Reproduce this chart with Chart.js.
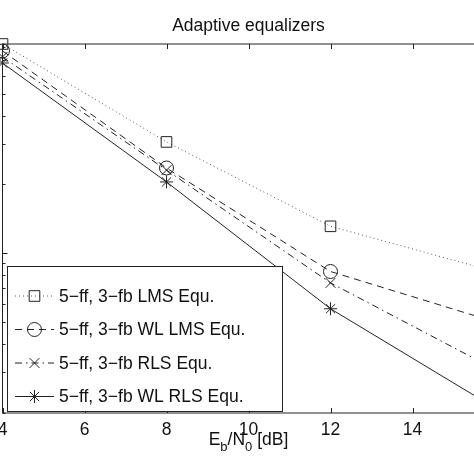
<!DOCTYPE html>
<html>
<head>
<meta charset="utf-8">
<title>Adaptive equalizers</title>
<script src="https://cdn.jsdelivr.net/npm/chart.js@4.4.1/dist/chart.umd.min.js"></script>
<style>
  html, body { margin: 0; padding: 0; background: #fff; }
  .container { position: relative; width: 474px; height: 474px; }
</style>
</head>
<body>
<div class="container"><canvas id="chart"></canvas></div>
<script>
// Eb/N0 [dB] of the simulated points
const snr = [4, 8, 12, 16];

// bit error rate of each equalizer
const lmsBer = [0.0825, 0.0307, 0.0131, 0.0083];
const wlLmsBer = [0.0769, 0.0236, 0.0083, 0.0050];
const rlsBer = [0.0724, 0.0231, 0.0074, 0.0031];
const wlRlsBer = [0.0681, 0.0205, 0.0057, 0.0021];

const seriesNames = [
    '5\u2212ff, 3\u2212fb LMS Equ.',
    '5\u2212ff, 3\u2212fb WL LMS Equ.',
    '5\u2212ff, 3\u2212fb RLS Equ.',
    '5\u2212ff, 3\u2212fb WL RLS Equ.'
];

const xTicks = [4, 6, 8, 10, 12, 14];
const xTickLabels = ['4', '6', '8', '10', '12', '14'];
const xRange = [4, 15.5];
const yRange = [0.00199, 0.0825];

const FONT = "'Liberation Sans', Arial, Helvetica, sans-serif";
const INK = '#222';

function toPoints(values) {
    return values.map((v, i) => ({ x: snr[i], y: v }));
}

function series(label, values, color, dash, style, radius) {
    return {
        label: label,
        data: toPoints(values),
        borderColor: color,
        borderWidth: 1,
        borderDash: dash,
        pointStyle: style,
        pointRadius: radius,
        pointHoverRadius: radius,
        pointBorderColor: INK,
        pointBorderWidth: 1,
        pointBackgroundColor: 'rgba(0,0,0,0)',
        tension: 0,
        fill: false,
        clip: false
    };
}

const datasets = [
    series(seriesNames[0], lmsBer, '#555', [1, 3], 'rect', 7.5),
    series(seriesNames[1], wlLmsBer, INK, [7, 5], 'circle', 7),
    series(seriesNames[2], rlsBer, INK, [7, 4, 1.5, 4], 'crossRot', 7),
    series(seriesNames[3], wlRlsBer, INK, [], 'star', 6.5)
];

function drawMarker(ctx, ds, x, y) {
    ctx.save();
    ctx.setLineDash([]);
    ctx.strokeStyle = ds.pointBorderColor;
    ctx.fillStyle = 'rgba(0,0,0,0)';
    ctx.lineWidth = 1;
    Chart.helpers.drawPoint(ctx, { pointStyle: ds.pointStyle, radius: ds.pointRadius, rotation: 0, borderWidth: 1 }, x, y);
    ctx.restore();
}

// MATLAB style box, inward ticks, labels and the legend inside the axes
const matlabAxes = {
    id: 'matlabAxes',
    afterDatasetsDraw(chart) {
        const { ctx, chartArea: a, scales: { x, y } } = chart;
        ctx.save();
        ctx.strokeStyle = INK;
        ctx.lineWidth = 1;
        ctx.setLineDash([]);

        // frame
        ctx.beginPath();
        ctx.moveTo(a.left, a.bottom);
        ctx.lineTo(a.left, a.top);
        ctx.lineTo(a.right + 5, a.top);
        ctx.moveTo(a.left, a.bottom);
        ctx.lineTo(a.right + 5, a.bottom);
        ctx.stroke();

        // x ticks, top and bottom
        ctx.beginPath();
        xTicks.forEach(v => {
            const px = Math.round(x.getPixelForValue(v)) + 0.5;
            ctx.moveTo(px, a.bottom);
            ctx.lineTo(px, a.bottom - 5);
            ctx.moveTo(px, a.top);
            ctx.lineTo(px, a.top + 5);
        });
        // y ticks, log decades
        for (let k = -4; k <= 0; k++) {
            for (let m = 1; m <= 9; m++) {
                const v = m * Math.pow(10, k);
                if (v < yRange[0] || v > yRange[1]) continue;
                const py = Math.round(y.getPixelForValue(v)) + 0.5;
                ctx.moveTo(a.left, py);
                ctx.lineTo(a.left + (m === 1 ? 5 : 3), py);
            }
        }
        ctx.stroke();

        // legend box
        const lx = 7.5, ly = 266.5, lw = 275, lh = 145;
        ctx.fillStyle = '#fff';
        ctx.fillRect(lx, ly, lw, lh);
        ctx.strokeRect(lx, ly, lw, lh);
        ctx.font = '17.5px ' + FONT;
        ctx.textBaseline = 'middle';
        ctx.textAlign = 'left';
        datasets.forEach((ds, i) => {
            const cy = 296 + i * 33.5;
            ctx.save();
            ctx.strokeStyle = ds.borderColor;
            ctx.setLineDash(ds.borderDash);
            ctx.beginPath();
            ctx.moveTo(15, cy);
            ctx.lineTo(54, cy);
            ctx.stroke();
            ctx.restore();
            drawMarker(ctx, ds, 34.5, cy);
            ctx.fillStyle = '#111';
            ctx.fillText(ds.label, 59, cy + 1);
        });

        // tick labels
        ctx.fillStyle = '#111';
        ctx.textAlign = 'center';
        ctx.textBaseline = 'alphabetic';
        xTicks.forEach((v, i) => {
            ctx.fillText(xTickLabels[i], x.getPixelForValue(v), 435);
        });

        // title
        const cx = x.getPixelForValue(10);
        ctx.fillText('Adaptive equalizers', cx, 31);

        // axis label Eb/N0 [dB] with subscripts
        const parts = [['E', 0], ['b', 1], ['/N', 0], ['0', 1], [' [dB]', 0]];
        const big = '17.5px ' + FONT, small = '13px ' + FONT;
        let total = 0;
        parts.forEach(p => {
            ctx.font = p[1] ? small : big;
            total += ctx.measureText(p[0]).width;
        });
        let tx = cx - total / 2;
        ctx.textAlign = 'left';
        parts.forEach(p => {
            ctx.font = p[1] ? small : big;
            ctx.fillText(p[0], tx, p[1] ? 451 : 445);
            tx += ctx.measureText(p[0]).width;
        });
        ctx.restore();
    }
};

new Chart(document.getElementById('chart'), {
    type: 'line',
    data: { datasets: datasets },
    options: {
        responsive: true,
        maintainAspectRatio: false,
        animation: false,
        layout: { autoPadding: false, padding: { left: 2.5, top: 44, right: 0, bottom: 61 } },
        scales: {
            x: { type: 'linear', min: xRange[0], max: xRange[1], display: false },
            y: { type: 'logarithmic', min: yRange[0], max: yRange[1], display: false }
        },
        plugins: {
            legend: { display: false },
            title: { display: false },
            tooltip: { enabled: false }
        }
    },
    plugins: [matlabAxes]
});
</script>
</body>
</html>
